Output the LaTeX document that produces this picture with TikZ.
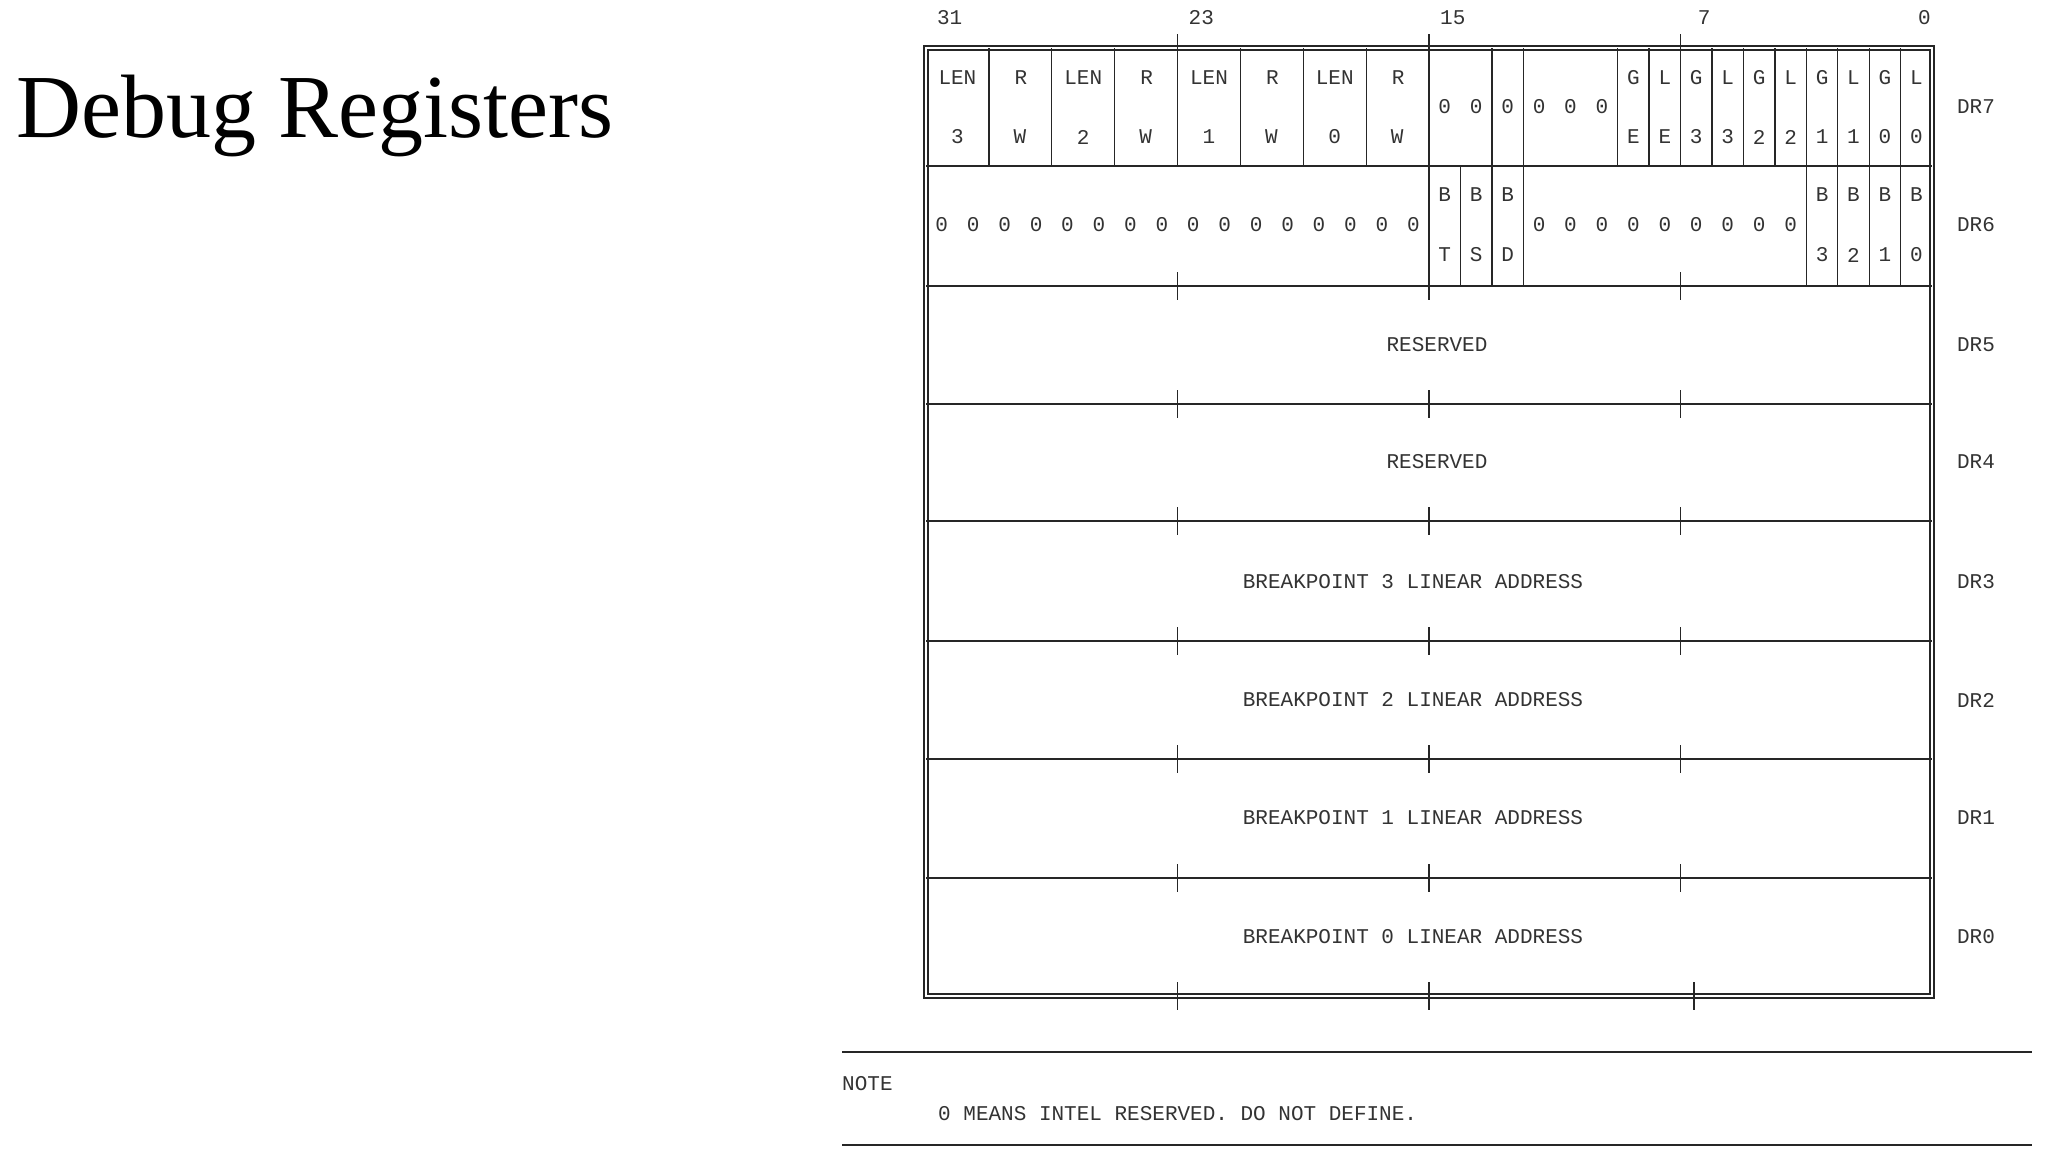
\documentclass[tikz,border=0pt]{standalone}
\usepackage{fontspec}
\setmainfont{Liberation Serif}
\newfontfamily\mono{Liberation Mono}
\begin{document}
\begin{tikzpicture}[x=1pt,y=-1pt,
  reg/.style={font=\mono\fontsize{21}{21}\selectfont,text=black!80,inner sep=0pt,anchor=center},
  ln/.style={line width=1.3pt,black!85},
  tk/.style={line width=1.3pt,black!85}]
\useasboundingbox (0,0) rectangle (2048,1152);
\def\X#1{926+(31-#1)*31.44}
\def\C#1{926+(31-#1)*31.44+15.72}
\node[anchor=base west,font=\fontsize{90}{90}\selectfont,inner sep=0pt] (title) at (16,137) {Debug Registers};
% rows
\draw[ln,double,double distance=2.5pt] (926,48) rectangle (1932,996);
\foreach \y in {166,286,404,521,641,759,878} \draw[ln] (926,\y) -- (1932,\y);
% ticks
\foreach \b in {23,15,7} \draw[tk] ({\X{\b}},34) -- ({\X{\b}},48);
\foreach \y in {286,404,521,641,759,878} \foreach \b in {23,15,7} \draw[tk] ({\X{\b}},\y-14) -- ({\X{\b}},\y+14);
\foreach \b in {23,15} \draw[tk] ({\X{\b}},982) -- ({\X{\b}},1010);
\draw[tk] (1694,982) -- (1694,1010);
% bit numbers
\foreach \b in {31,23,15,7,0} \node[reg] at ({\C{\b}+8},18) {\b};
% DR7 separators
\foreach \b in {29,27,25,23,21,19,17,15,13,12,9,8,7,6,5,4,3,2,1,0} \draw[ln] ({\X{\b}},48) -- ({\X{\b}},166);
% DR6 separators
\foreach \b in {15,14,13,12,3,2,1,0} \draw[ln] ({\X{\b}},166) -- ({\X{\b}},286);
% DR7 text
\foreach \b/\t/\n in {31/LEN/3,29/R\kern-1pt/\kern-1pt W/3,27/LEN/2,25/R\kern-1pt/\kern-1pt W/2,23/LEN/1,21/R\kern-1pt/\kern-1pt W/1,19/LEN/0,17/R\kern-1pt/\kern-1pt W/0} {
  \node[reg] at ({\X{\b}+31.44},78) {\t};
  \node[reg] at ({\X{\b}+31.44},137) {\n};}
\foreach \b in {15,14,13,12,11,10} \node[reg] at ({\C{\b}},107) {0};
\foreach \b/\t/\n in {9/G/E,8/L/E,7/G/3,6/L/3,5/G/2,4/L/2,3/G/1,2/L/1,1/G/0,0/L/0} {
  \node[reg] at ({\C{\b}},78) {\t};
  \node[reg] at ({\C{\b}},137) {\n};}
% DR6 text
\foreach \b in {31,...,16} \node[reg] at ({\C{\b}},225) {0};
\foreach \b in {12,...,4} \node[reg] at ({\C{\b}},225) {0};
\foreach \b/\t/\n in {15/B/T,14/B/S,13/B/D,3/B/3,2/B/2,1/B/1,0/B/0} {
  \node[reg] at ({\C{\b}},195) {\t};
  \node[reg] at ({\C{\b}},255) {\n};}
% row texts
\node[reg] (r5) at (1437,345) {RESERVED};
\node[reg] (r4) at (1437,462) {RESERVED};
\node[reg] (r3) at (1413,582) {BREAKPOINT 3 LINEAR ADDRESS};
\node[reg] (r2) at (1413,700) {BREAKPOINT 2 LINEAR ADDRESS};
\node[reg] (r1) at (1413,818) {BREAKPOINT 1 LINEAR ADDRESS};
\node[reg] (r0) at (1413,937) {BREAKPOINT 0 LINEAR ADDRESS};
\foreach \n/\y in {7/107,6/225,5/345,4/462,3/582,2/700,1/818,0/937} \node[reg] at (1976,\y) {DR\n};
% note
\draw[ln] (842,1052) -- (2032,1052);
\draw[ln] (842,1145) -- (2032,1145);
\node[reg,anchor=west] (note) at (842,1084) {NOTE};
\node[reg,anchor=west] (notetext) at (938,1114) {0 MEANS INTEL RESERVED. DO NOT DEFINE.};
\end{tikzpicture}
\end{document}
